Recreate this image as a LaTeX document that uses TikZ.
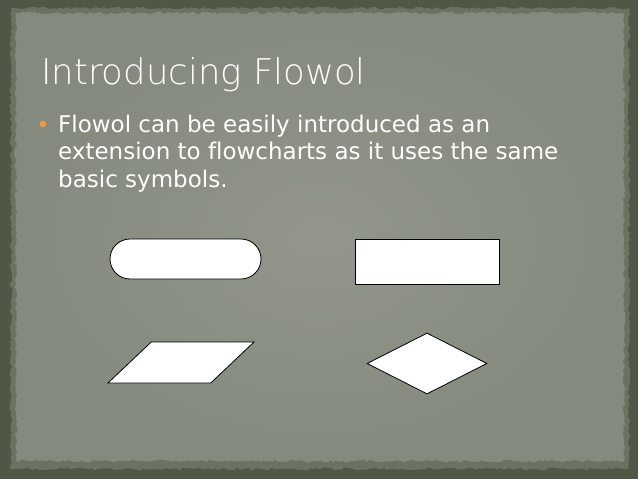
\documentclass[tikz,border=0pt]{standalone}
\usepackage{fontspec}
\setmainfont{DejaVu Sans}[Ligatures=NoCommon]
\newfontfamily\titlefont{DejaVu Sans ExtraLight}
\usetikzlibrary{shapes.geometric,shapes.misc,decorations.pathmorphing}
\definecolor{slateout}{RGB}{78,88,68}
\definecolor{paperrim}{RGB}{106,114,97}
\definecolor{paper}{RGB}{132,138,126}
\definecolor{papermid}{RGB}{146,150,139}
\definecolor{bulletorange}{RGB}{242,152,62}
\tikzset{
  symbol/.style={draw=black, fill=white, line width=0.8pt, inner sep=1pt},
  ragged/.style={decorate, decoration={random steps, segment length=3pt, amplitude=1.4pt}}
}
\begin{document}
\begin{tikzpicture}[x=1pt, y=-1pt]
  \useasboundingbox (0,0) rectangle (638,479);
  \pgfmathsetseed{11}
  \fill[slateout] (0,0) rectangle (638,479);
  \fill[paperrim, ragged] (11,8) -- (629,8) -- (629,469) -- (11,469) -- cycle;
  \shade[inner color=papermid, outer color=paper, ragged] (16,13) -- (624,13) -- (624,461) -- (16,461) -- cycle;
  \node[anchor=base west, text=white, inner sep=0pt, font=\titlefont\fontsize{35.5}{36}\selectfont] (title) at (41,84)
    {Introducing Flowol};
  \fill[bulletorange] (43,124) circle (3.3); % bullet
  \node[anchor=base west, text=white, inner sep=0pt, align=left, font=\fontsize{23}{27.5}\selectfont] (body) at (58,187)
    {Flowol can be easily introduced as an\\
     extension to flowcharts as it uses the same\\
     basic symbols.};
  \node[symbol, rounded rectangle, minimum width=153pt, minimum height=40pt] (terminal) at (185.5,259) {};
  \node[symbol, rectangle, minimum width=144pt, minimum height=45pt] (process) at (427,261.5) {};
  \node[symbol, trapezium, trapezium left angle=54, trapezium right angle=126, trapezium stretches=true,
    minimum width=146pt, minimum height=41pt] (io) at (181,362.5) {};
  \node[symbol, diamond, minimum width=120pt, minimum height=61pt] (decision) at (427,363.5) {};
\end{tikzpicture}
\end{document}
